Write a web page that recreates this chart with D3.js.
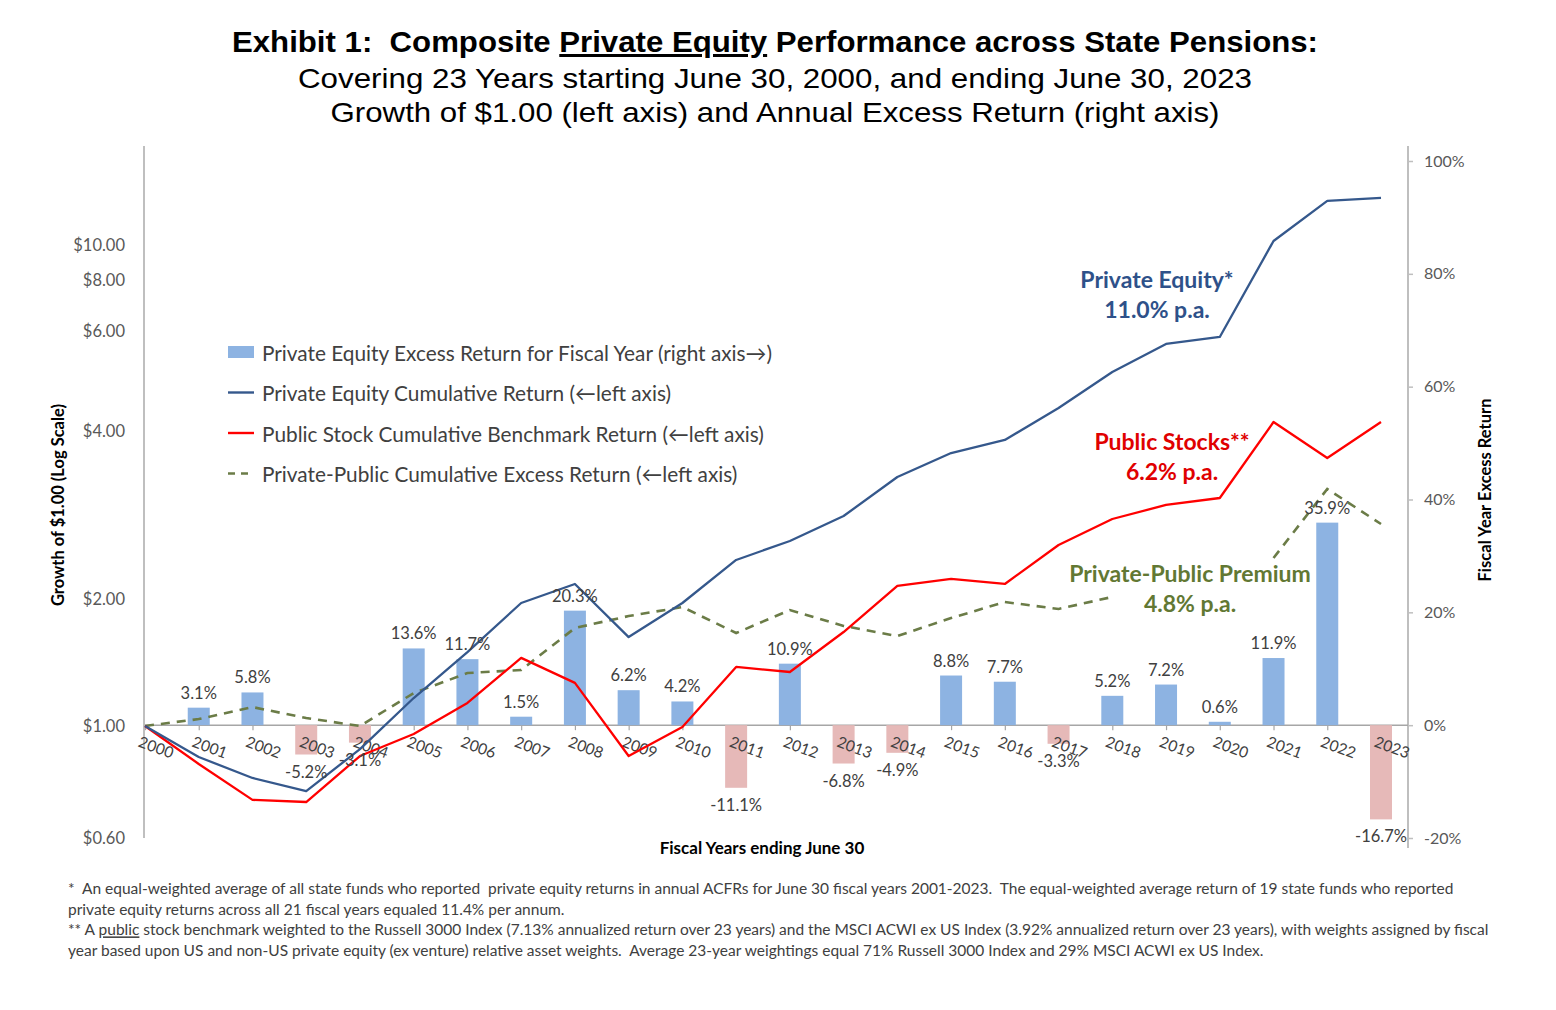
<!DOCTYPE html>
<html>
<head>
<meta charset="utf-8">
<script src="https://cdn.jsdelivr.net/npm/d3@7"></script>
<style>
  body { margin: 0; background: #fff; }
  text { font-family: Lato, "Open Sans", sans-serif; }
  text.title { font-family: "Liberation Sans", Arial, sans-serif; fill: #000; }
</style>
</head>
<body>
<svg id="chart" width="1556" height="1010"></svg>
<script>
const years = [2000, 2001, 2002, 2003, 2004, 2005, 2006, 2007, 2008, 2009, 2010, 2011,
  2012, 2013, 2014, 2015, 2016, 2017, 2018, 2019, 2020, 2021, 2022, 2023];

// private equity excess return for each fiscal year, in % (right axis)
const excessReturn = [null, 3.1, 5.8, -5.2, -3.1, 13.6, 11.7, 1.5, 20.3, 6.2, 4.2, -11.1,
  10.9, -6.8, -4.9, 8.8, 7.7, -3.3, 5.2, 7.2, 0.6, 11.9, 35.9, -16.7];

// growth of $1.00 (left axis, log scale)
const peCumulative = [1.00, 0.868, 0.789, 0.743, 0.900, 1.136, 1.401, 1.752, 1.911, 1.500,
  1.752, 2.132, 2.325, 2.605, 3.113, 3.472, 3.685, 4.263, 5.025, 5.709, 5.894, 9.13, 10.96, 11.11];
const psCumulative = [1.00, 0.841, 0.714, 0.707, 0.872, 0.964, 1.111, 1.364, 1.217, 0.872,
  0.995, 1.309, 1.279, 1.535, 1.894, 1.955, 1.911, 2.283, 2.570, 2.740, 2.828, 4.00, 3.394, 4.00];
// 2019 and 2020 are left out in the original (room for the label)
const premiumCumulative = [1.00, 1.032, 1.090, 1.037, 1.00, 1.162, 1.273, 1.291, 1.563, 1.651,
  1.720, 1.528, 1.697, 1.578, 1.507, 1.636, 1.760, 1.705, 1.801, null, null, 2.151, 2.947, 2.512];

// left axis labels are hand-placed text boxes in the original; these are the
// log-axis values they sit at
const leftTickLabels = ["$0.60", "$1.00", "$2.00", "$4.00", "$6.00", "$8.00", "$10.00"];
const leftTickAt = [0.6, 1.0, 1.78, 3.84, 6.06, 7.64, 8.96];
const rightTicks = [-20, 0, 20, 40, 60, 80, 100];

const legendItems = [
  { label: "Private Equity Excess Return for Fiscal Year (right axis\u2192)", kind: "bar" },
  { label: "Private Equity Cumulative Return (\u2190left axis)", kind: "pe" },
  { label: "Public Stock Cumulative Benchmark Return (\u2190left axis)", kind: "ps" },
  { label: "Private-Public Cumulative Excess Return (\u2190left axis)", kind: "prem" }
];

const footnotes = [
  ["*  An equal-weighted average of all state funds who reported  private equity returns in annual ACFRs for June 30 fiscal years 2001-2023.  The equal-weighted average return of 19 state funds who reported"],
  ["private equity returns across all 21 fiscal years equaled 11.4% per annum."],
  ["** A ", "public", " stock benchmark weighted to the Russell 3000 Index (7.13% annualized return over 23 years) and the MSCI ACWI ex US Index (3.92% annualized return over 23 years), with weights assigned by fiscal"],
  ["year based upon US and non-US private equity (ex venture) relative asset weights.  Average 23-year weightings equal 71% Russell 3000 Index and 29% MSCI ACWI ex US Index."]
];

// ---- styling ----
const colors = {
  barPos: "#8DB3E2",
  barNeg: "#E6B9B8",
  pe: "#35588C",
  ps: "#FF0000",
  prem: "#6B7C47",
  peText: "#2E5189",
  psText: "#E00000",
  premText: "#627833",
  axis: "#BFBFBF",
  tickText: "#595959",
  label: "#404040"
};

const svg = d3.select("#chart");

const x = d3.scalePoint().domain(years).range([145, 1381]);
const yLeft = d3.scaleLog().domain([0.6, 13.15]).range([838, 161]);
const yRight = d3.scaleLinear().domain([-20, 100]).range([838, 161]);
const zeroY = yRight(0);
const axisRightX = 1408;

// ---- title ----
const t1 = svg.append("text").attr("class", "title")
  .attr("x", 775).attr("y", 52).attr("text-anchor", "middle")
  .attr("font-size", 30).attr("font-weight", "bold")
  .attr("textLength", 1086).attr("lengthAdjust", "spacingAndGlyphs")
  .style("white-space", "pre");
t1.append("tspan").text("Exhibit 1:  Composite ");
t1.append("tspan").style("text-decoration", "underline").text("Private Equity");
t1.append("tspan").text(" Performance across State Pensions:");
svg.append("text").attr("class", "title")
  .attr("x", 775).attr("y", 88).attr("text-anchor", "middle").attr("font-size", 28)
  .attr("textLength", 954).attr("lengthAdjust", "spacingAndGlyphs")
  .text("Covering 23 Years starting June 30, 2000, and ending June 30, 2023");
svg.append("text").attr("class", "title")
  .attr("x", 775).attr("y", 122).attr("text-anchor", "middle").attr("font-size", 28)
  .attr("textLength", 889).attr("lengthAdjust", "spacingAndGlyphs")
  .text("Growth of $1.00 (left axis) and Annual Excess Return (right axis)");

// ---- axes ----
svg.append("line")
  .attr("x1", 144).attr("x2", 144).attr("y1", 146).attr("y2", 838)
  .attr("stroke", colors.axis).attr("stroke-width", 2);
svg.append("line")
  .attr("x1", axisRightX).attr("x2", axisRightX).attr("y1", 146).attr("y2", 848)
  .attr("stroke", colors.axis).attr("stroke-width", 2);

const leftAxis = svg.append("g")
  .attr("transform", "translate(144,0)")
  .call(d3.axisLeft(yLeft)
    .tickValues(leftTickAt)
    .tickFormat((d, i) => leftTickLabels[i])
    .tickSize(0)
    .tickPadding(19));
leftAxis.select(".domain").remove();
leftAxis.selectAll("text")
  .attr("fill", colors.tickText).attr("font-size", 16.5)
  .style("font-family", "Lato, sans-serif");

const rightAxis = svg.append("g")
  .attr("transform", `translate(${axisRightX},0)`)
  .call(d3.axisRight(yRight)
    .tickValues(rightTicks)
    .tickFormat(d => d + "%")
    .tickSize(5)
    .tickPadding(11));
rightAxis.select(".domain").remove();
rightAxis.selectAll("line").attr("stroke", colors.axis).attr("stroke-width", 1.5);
rightAxis.selectAll("text")
  .attr("fill", colors.tickText).attr("font-size", 16)
  .style("font-family", "Lato, sans-serif");

// zero line with category ticks
svg.append("line")
  .attr("x1", 145).attr("x2", axisRightX).attr("y1", zeroY).attr("y2", zeroY)
  .attr("stroke", "#A6A6A6").attr("stroke-width", 1.5);
const catAxis = svg.append("g")
  .attr("transform", `translate(0,${zeroY})`)
  .call(d3.axisBottom(x).tickSize(5).tickFormat(""));
catAxis.select(".domain").remove();
catAxis.selectAll("line").attr("stroke", "#A6A6A6").attr("stroke-width", 1.2);

// ---- bars ----
const barData = years.map((yr, i) => ({ year: yr, v: excessReturn[i] })).filter(d => d.v !== null);
const barW = 22;
svg.append("g").selectAll("rect")
  .data(barData)
  .join("rect")
  .attr("x", d => x(d.year) - barW / 2)
  .attr("width", barW)
  .attr("y", d => yRight(Math.max(0, d.v)))
  .attr("height", d => Math.abs(yRight(d.v) - zeroY))
  .attr("fill", d => d.v >= 0 ? colors.barPos : colors.barNeg);

// year labels (slanted)
svg.append("g").selectAll("text")
  .data(years)
  .join("text")
  .attr("transform", d => `translate(${x(d) - 4},${zeroY + 11}) rotate(20)`)
  .attr("dy", "0.7em")
  .attr("font-size", 15.5)
  .attr("fill", colors.label)
  .text(d => d);

// ---- lines ----
const line = (values) => d3.line()
  .defined((d, i) => values[i] !== null)
  .x((d, i) => x(years[i]))
  .y((d, i) => yLeft(values[i]))(values);

svg.append("path").attr("d", line(premiumCumulative))
  .attr("fill", "none").attr("stroke", colors.prem)
  .attr("stroke-width", 2.6).attr("stroke-dasharray", "9,7");
svg.append("path").attr("d", line(psCumulative))
  .attr("fill", "none").attr("stroke", colors.ps).attr("stroke-width", 2.3)
  .attr("stroke-linejoin", "round");
svg.append("path").attr("d", line(peCumulative))
  .attr("fill", "none").attr("stroke", colors.pe).attr("stroke-width", 2.3)
  .attr("stroke-linejoin", "round");

// bar value labels
svg.append("g").selectAll("text")
  .data(barData)
  .join("text")
  .attr("x", d => x(d.year))
  .attr("y", d => d.v >= 0 ? yRight(d.v) - 15 : yRight(d.v) + 17)
  .attr("text-anchor", "middle")
  .attr("dominant-baseline", "central")
  .attr("font-size", 16.5)
  .attr("fill", colors.label)
  .text(d => d.v.toFixed(1) + "%");

// ---- legend ----
const legend = svg.append("g").attr("transform", "translate(228,352)");
legendItems.forEach((item, i) => {
  const g = legend.append("g").attr("transform", `translate(0,${i * 40.5})`);
  if (item.kind === "bar") {
    g.append("rect").attr("x", 0).attr("y", -6).attr("width", 26).attr("height", 12)
      .attr("fill", colors.barPos);
  } else {
    g.append("line").attr("x1", 0).attr("x2", 26).attr("y1", 0).attr("y2", 0)
      .attr("stroke", colors[item.kind]).attr("stroke-width", 2.4)
      .attr("stroke-dasharray", item.kind === "prem" ? "7,6" : null);
  }
  g.append("text").attr("x", 34).attr("y", 0)
    .attr("dominant-baseline", "central")
    .attr("font-size", 20.8).attr("fill", colors.label)
    .text(item.label);
});

// ---- annotations ----
const notes = [
  { lines: ["Private Equity*", "11.0% p.a."], cx: 1157, cy: 279, color: colors.peText },
  { lines: ["Public Stocks**", "6.2% p.a."], cx: 1172, cy: 441, color: colors.psText },
  { lines: ["Private-Public Premium", "4.8% p.a."], cx: 1190, cy: 573, color: colors.premText }
];
notes.forEach(n => {
  n.lines.forEach((s, j) => {
    svg.append("text")
      .attr("x", n.cx).attr("y", n.cy + j * 30)
      .attr("text-anchor", "middle").attr("dominant-baseline", "central")
      .attr("font-size", 23).attr("font-weight", "bold")
      .attr("fill", n.color)
      .text(s);
  });
});

// ---- axis titles ----
svg.append("text")
  .attr("transform", "translate(58,505) rotate(-90)")
  .attr("text-anchor", "middle").attr("dominant-baseline", "central")
  .attr("font-size", 16.5).attr("font-weight", "bold").attr("fill", "#000")
  .text("Growth of $1.00 (Log Scale)");
svg.append("text")
  .attr("transform", "translate(1485,490) rotate(-90)")
  .attr("text-anchor", "middle").attr("dominant-baseline", "central")
  .attr("font-size", 16.5).attr("font-weight", "bold").attr("fill", "#000")
  .text("Fiscal Year Excess Return");
svg.append("text")
  .attr("x", 762).attr("y", 847)
  .attr("text-anchor", "middle").attr("dominant-baseline", "central")
  .attr("font-size", 17).attr("font-weight", "bold").attr("fill", "#000")
  .text("Fiscal Years ending June 30");

// ---- footnotes ----
const fn = svg.append("g").attr("transform", "translate(68,0)");
footnotes.forEach((parts, i) => {
  const t = fn.append("text")
    .attr("x", 0).attr("y", 894 + i * 20.7)
    .attr("font-size", 15.5).attr("fill", colors.label)
    .style("white-space", "pre");
  parts.forEach((p, j) => {
    t.append("tspan")
      .style("text-decoration", parts.length > 1 && j === 1 ? "underline" : null)
      .text(p);
  });
});
</script>
</body>
</html>
